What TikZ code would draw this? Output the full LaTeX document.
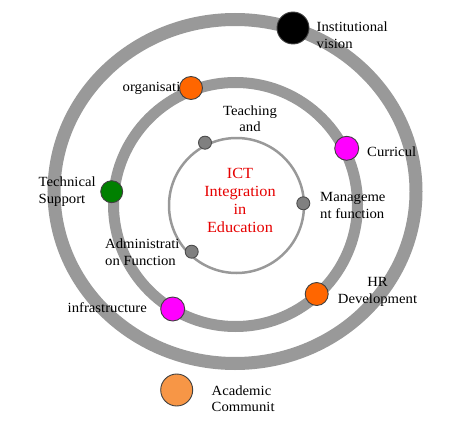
\documentclass[tikz,border=0pt]{standalone}
\usepackage{fontspec}
\setmainfont{Liberation Serif}[FakeStretch=1.05]
\definecolor{ringgray}{RGB}{153,153,153}
\definecolor{dotgray}{RGB}{128,128,128}
\definecolor{dotorange}{RGB}{255,102,0}
\definecolor{dotgreen}{RGB}{0,128,0}
\definecolor{dotmagenta}{RGB}{255,0,255}
\definecolor{dotpeach}{RGB}{247,150,70}
\definecolor{ictred}{RGB}{230,0,0}
\begin{document}
\begin{tikzpicture}[x=1pt,y=-1pt,
  lbl/.style={inner sep=0pt,font=\fontsize{14}{16.7}\selectfont,align=left},
  dotbase/.style={circle,draw=black!75,line width=0.9pt,inner sep=0pt},
  small/.style={dotbase,fill=dotgray,minimum size=13pt,draw=black!70},
  mid/.style={dotbase,minimum size=23pt},
  big/.style={dotbase,minimum size=32pt}]
\useasboundingbox (0,0) rectangle (474,444);
% rings
\draw[ringgray,line width=13pt] (235,191.5) ellipse [x radius=181,y radius=172];
\draw[ringgray,line width=11pt] (235.5,204.5) circle [radius=122];
\draw[ringgray,line width=2.5pt] (236.5,205.5) circle [radius=67.5];
% texts (base anchor = baseline of the last line)
\node[lbl,anchor=base west] (tInst) at (316.5,48.2) {Institutional\\vision};
\node[lbl,anchor=base west] (tOrg) at (122.5,91.5) {organisati};
\node[lbl,anchor=base,align=center] (tTeach) at (250,131.7) {Teaching\\and};
\node[lbl,anchor=base west] (tMan) at (320,218.2) {Manageme\\nt function};
\node[lbl,anchor=base west] (tCur) at (367,156.5) {Curricul};
\node[lbl,anchor=base west] (tTech) at (38.5,203.2) {Technical\\Support};
\node[lbl,anchor=base west] (tAdm) at (105,265.2) {Administrati\\on Function};
\node[lbl,anchor=base west] (tInf) at (67.5,312.5) {infrastructure};
\node[lbl,anchor=base,align=center] (tHR) at (377.5,303.2) {HR\\Development};
\node[lbl,anchor=base west] (tAca) at (211.5,411.7) {Academic\\Communit};
\node[inner sep=0pt,anchor=base,align=center,text=ictred,
  font=\fontsize{15.5}{18}\selectfont] (tICT) at (240,232) {ICT\\Integration\\in\\Education};
% dots
\node[big,fill=black] (dInst) at (293,28) {};
\node[mid,fill=dotorange] (dOrg) at (191,88) {};
\node[small] (dTeach) at (205,142.7) {};
\node[small] (dMan) at (303.3,203.3) {};
\node[small] (dAdm) at (191.7,251.7) {};
\node[mid,fill=dotgreen,minimum size=22pt] (dTech) at (111.7,191.7) {};
\node[mid,fill=dotmagenta,minimum size=24pt] (dCur) at (346.7,148.3) {};
\node[mid,fill=dotorange] (dHR) at (316.7,294) {};
\node[mid,fill=dotmagenta,minimum size=24pt] (dInf) at (172.7,309) {};
\node[big,fill=dotpeach] (dAca) at (176.7,390) {};
\end{tikzpicture}
\end{document}
